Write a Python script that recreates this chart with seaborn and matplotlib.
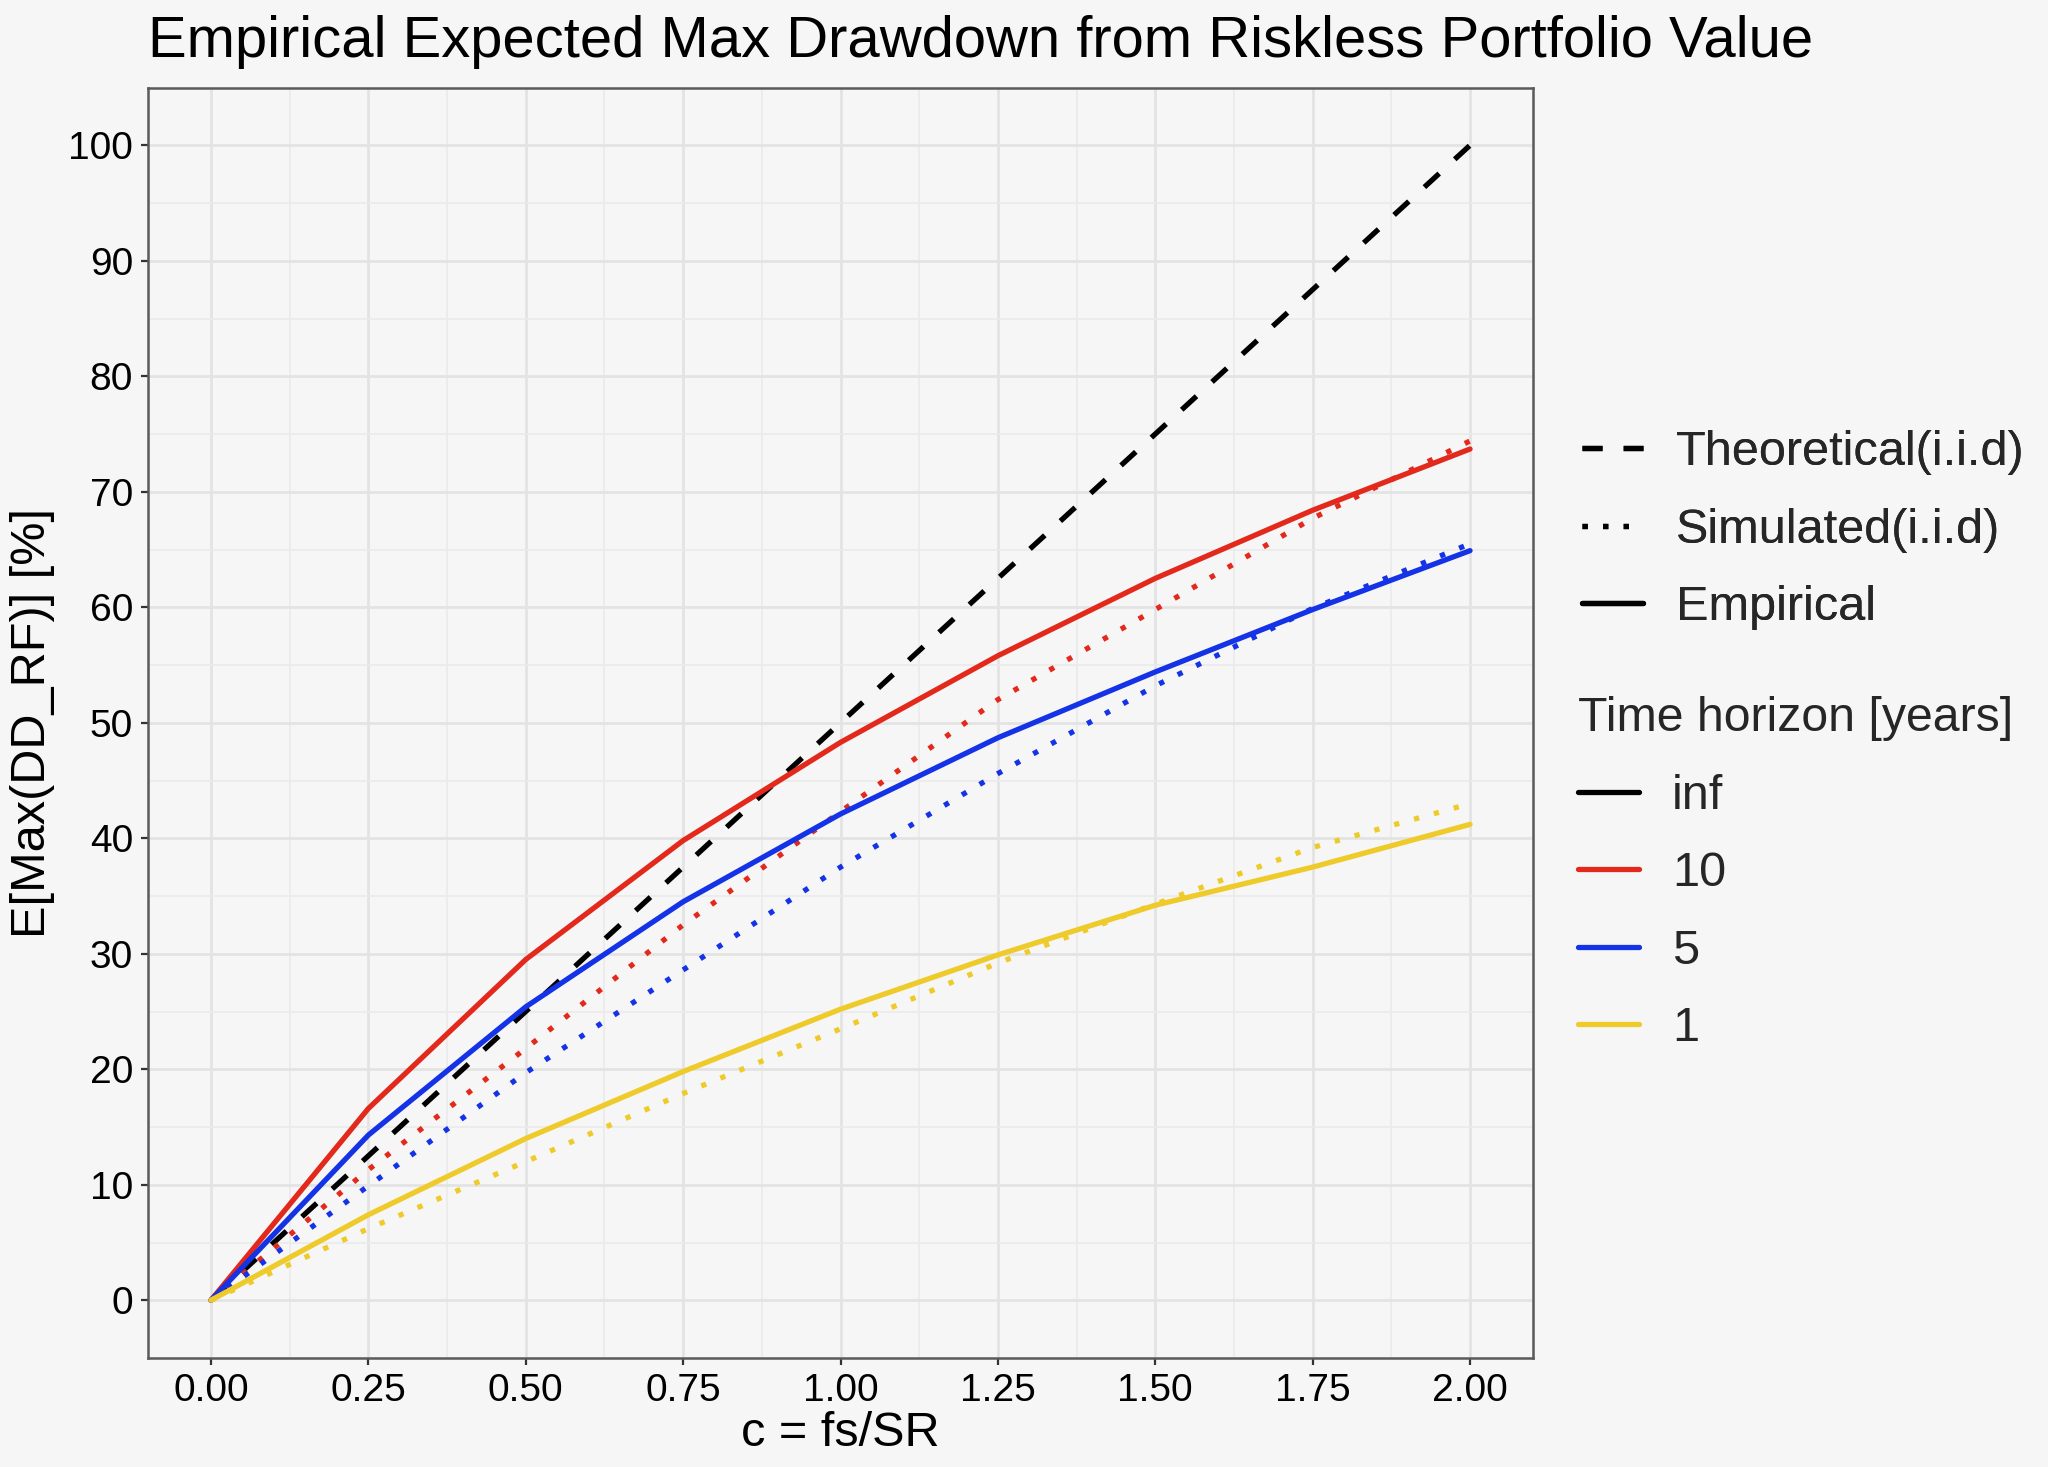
import numpy as np
import pandas as pd
import seaborn as sns
import matplotlib.pyplot as plt
from matplotlib.lines import Line2D

# values (in %)
c_values = [0.0, 0.25, 0.5, 0.75, 1.0, 1.25, 1.5, 1.75, 2.0]

theoretical_inf = [0.0, 12.5, 25.0, 37.5, 50.0, 62.5, 75.0, 87.5, 100.0]

simulated_10 = [0.0, 11.3, 21.8, 32.5, 42.3, 52.0, 59.8, 67.7, 74.4]
simulated_5 = [0.0, 9.9, 19.7, 28.6, 37.5, 45.6, 53.2, 59.9, 65.5]
simulated_1 = [0.0, 6.2, 12.0, 17.9, 23.5, 29.2, 34.3, 39.2, 43.0]

empirical_10 = [0.0, 16.6, 29.5, 39.8, 48.3, 55.8, 62.5, 68.4, 73.7]
empirical_5 = [0.0, 14.3, 25.4, 34.5, 42.1, 48.7, 54.4, 59.8, 64.9]
empirical_1 = [0.0, 7.4, 14.0, 19.8, 25.2, 29.9, 34.2, 37.5, 41.2]

horizons = ["inf", "10", "5", "1"]
kinds = ["Theoretical(i.i.d)", "Simulated(i.i.d)", "Empirical"]

x_ticks = [0.0, 0.25, 0.5, 0.75, 1.0, 1.25, 1.5, 1.75, 2.0]
x_tick_labels = ["0.00", "0.25", "0.50", "0.75", "1.00", "1.25", "1.50", "1.75", "2.00"]
y_ticks = [0, 10, 20, 30, 40, 50, 60, 70, 80, 90, 100]

# long format table for seaborn
series = [
    ("inf", "Theoretical(i.i.d)", theoretical_inf),
    ("10", "Simulated(i.i.d)", simulated_10),
    ("5", "Simulated(i.i.d)", simulated_5),
    ("1", "Simulated(i.i.d)", simulated_1),
    ("1", "Empirical", empirical_1),
    ("5", "Empirical", empirical_5),
    ("10", "Empirical", empirical_10),
]
rows = []
for h, k, vals in series:
    for c, v in zip(c_values, vals):
        rows.append({"c": c, "dd": v, "horizon": h, "kind": k})
df = pd.DataFrame(rows)

bg = "#f6f6f6"
colors = {"inf": "#000000", "10": "#e3291b", "5": "#1432e6", "1": "#eecb2a"}
dashes = {"Theoretical(i.i.d)": (3.8, 4.0), "Simulated(i.i.d)": (1, 2.9), "Empirical": ""}
lw = 1.9

sns.set_theme(style="whitegrid")
plt.rcParams["font.family"] = ["Liberation Sans", "DejaVu Sans"]
plt.rcParams["lines.solid_joinstyle"] = "round"

fig = plt.figure(figsize=(10.24, 7.335), dpi=200, facecolor=bg)
ax = fig.add_axes([148 / 2048, 1 - 1358 / 1467, (1533 - 148) / 2048, (1358 - 87.5) / 1467])
ax.set_facecolor(bg)

sns.lineplot(data=df, x="c", y="dd", hue="horizon", style="kind",
             hue_order=horizons, style_order=kinds, palette=colors,
             dashes=dashes, linewidth=lw, estimator=None, legend=False, ax=ax)

ax.set_xlim(-0.1, 2.1)
ax.set_ylim(-5, 105)
ax.set_xticks(x_ticks)
ax.set_xticklabels(x_tick_labels)
ax.set_xticks(np.arange(0.125, 2.0, 0.25), minor=True)
ax.set_yticks(y_ticks)
ax.set_yticks(np.arange(5, 100, 10), minor=True)

ax.grid(which="major", color="#e3e3e3", linewidth=1.0)
ax.grid(which="minor", color="#ebebeb", linewidth=0.6)
ax.set_axisbelow(True)
for s in ax.spines.values():
    s.set_color("#5a5a5a")
    s.set_linewidth(0.9)

ax.tick_params(which="major", length=2.6, width=0.8, color="#333333",
               labelsize=14, labelcolor="black", pad=2.8, bottom=True, left=True)
ax.tick_params(which="minor", length=0)

ax.set_xlabel("c = fs/SR", fontsize=17.5, color="black")
ax.set_ylabel("E[Max(DD_RF)] [%]", fontsize=17.5, color="black")
ax.xaxis.label.set_va("center")
ax.xaxis.set_label_coords(0.5, (1358 - 1433) / 1270.5)
ax.yaxis.label.set_va("center")
ax.yaxis.set_label_coords((33 - 148) / 1385, 0.5)

fig.text(148 / 2048, 1 - 57 / 1467,
         "Empirical Expected Max Drawdown from Riskless Portfolio Value",
         ha="left", va="baseline", fontsize=20.9, color="black")

# legend 1: line type
kind_handles = [Line2D([], [], color="black", lw=lw, dashes=dashes[k]) if dashes[k]
                else Line2D([], [], color="black", lw=lw) for k in kinds]
leg1 = fig.legend(kind_handles, kinds, loc="upper left",
                  bbox_to_anchor=(1582 / 2048, 1 - 430 / 1467),
                  frameon=False, fontsize=17.5, borderpad=0, borderaxespad=0,
                  handlelength=1.25, handletextpad=0.68, labelspacing=0.67)

# legend 2: horizon colours
hz_handles = [Line2D([], [], color=colors[h], lw=lw) for h in horizons]
leg2 = fig.legend(hz_handles, horizons, loc="upper left",
                  bbox_to_anchor=(1578 / 2048, 1 - 696 / 1467),
                  title="Time horizon [years]", title_fontsize=17.4,
                  frameon=False, fontsize=17.5, borderpad=0, borderaxespad=0,
                  handlelength=1.25, handletextpad=0.68, labelspacing=0.67)
leg2._legend_box.align = "left"
fig.add_artist(leg1)

fig.savefig("out.png", dpi=200, facecolor=bg)
